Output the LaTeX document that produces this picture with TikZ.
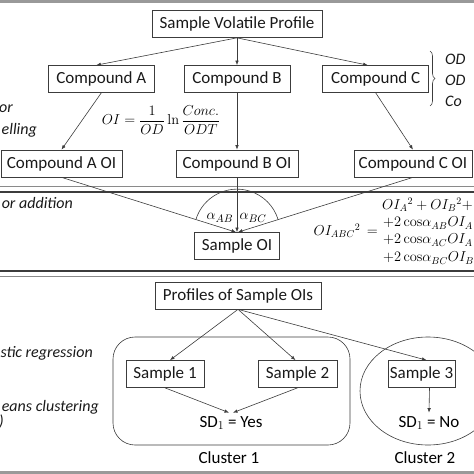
\documentclass[tikz,border=0pt]{standalone}
\usepackage{amsmath}
\usepackage[no-math]{fontspec}
\setmainfont{Carlito}
\usetikzlibrary{positioning,arrows.meta,decorations.pathreplacing,calc}

\definecolor{linegray}{HTML}{3C3C3C}
\definecolor{sepgray}{HTML}{8A8A8A}
\tikzset{
    box/.style={draw=linegray, line width=0.7pt, minimum height=27pt, inner sep=2pt, text=black!90},
    sidetext/.style={font=\fontsize{16}{18}\selectfont\itshape, text=black!90, inner sep=0pt},
    link/.style={draw=linegray, line width=0.6pt, -{Latex[length=4.5pt,width=3.5pt]}},
    eqtext/.style={inner sep=0pt, font=\fontsize{14}{16}\selectfont},
}

\begin{document}
\begin{tikzpicture}[x=1pt, y=-1pt, font=\fontsize{17}{19}\selectfont]
    \useasboundingbox (0,0) rectangle (474,474);
    \clip (0,0) rectangle (474,474);
    % frame bars
    \fill[black!40] (0,0) rectangle (474,2.5);
    \fill[black!40] (0,470.5) rectangle (474,474);

    % compounds
    \node [box, minimum width=170pt] (profile) at (237,24) {Sample Volatile Profile};
    \node [box, minimum width=106pt] (compB) at (237,79) {Compound B};
    \node [box, minimum width=106pt, left=29pt of compB] (compA) {Compound A};
    \node [box, minimum width=106pt, right=32pt of compB] (compC) {Compound C};
    \draw [link] (profile.south) -- ($(compA.north)+(-5,0)$);
    \draw [link] (profile.south) -- (compB.north);
    \draw [link] (profile.south) -- ($(compC.north)+(-8,0)$);

    % brace
    \draw [linegray, line width=0.6pt, decorate, decoration={brace, amplitude=5pt}] (430,51) -- (430,106);
    \node [sidetext, anchor=west] at (445,59) {OD};
    \node [sidetext, anchor=west] at (445,80) {OD};
    \node [sidetext, anchor=west] at (445,101) {Co};

    % odour intensity
    \node [box, minimum width=122pt] (oiB) at (237,163.5) {Compound B OI};
    \node [box, minimum width=121pt] (oiA) at (61.5,163.5) {Compound A OI};
    \node [box, minimum width=118pt] (oiC) at (413,163.5) {Compound C OI};
    \draw [link] (compA.south) -- (oiA.north);
    \draw [link] (compB.south) -- (oiB.north);
    \draw [link] (compC.south) -- (oiC.north);
    \node [eqtext] (oiEq) at (161,120) {$OI=\dfrac{1}{OD}\ln\dfrac{Conc.}{ODT}$};

    \node [sidetext, anchor=east] at (13,109) {or};
    \node [sidetext, anchor=east] at (37,130) {elling};

    % separators
    \draw [sepgray, line width=0.8pt] (0,186) -- (474,186);
    \draw [linegray, line width=1.1pt] (0,192) -- (474,192);
    \draw [linegray, line width=1.1pt] (0,271) -- (474,271);
    \draw [sepgray, line width=0.8pt] (0,276) -- (474,276);

    % vector addition
    \node [box, minimum width=85pt] (sampleOI) at (237,246) {Sample OI};
    \draw [link] (oiA.south) -- ($(sampleOI.north)+(-1,0)$);
    \draw [link] (oiB.south) -- (sampleOI.north);
    \draw [link] (oiC.south) -- ($(sampleOI.north)+(1,0)$);
    \draw [linegray, line width=0.6pt] ($(sampleOI.north)+(-163:43)$) arc [start angle=-163, end angle=-17, radius=43];
    \node [eqtext, font=\fontsize{15}{17}\selectfont] at (220,218) {$\alpha_{AB}$};
    \node [eqtext, font=\fontsize{15}{17}\selectfont] at (253,218) {$\alpha_{BC}$};

    \node [sidetext, anchor=east] at (73,203) {or addition};

    \node [eqtext, anchor=east] (oiSum) at (378,231) {$OI_{ABC}{}^{2}\,=$};
    \node [eqtext, anchor=west] at (382,205) {$OI_{A}{}^{2}+OI_{B}{}^{2}+$};
    \node [eqtext, anchor=west] at (383,223) {$+2\cos\!\alpha_{AB}OI_{A}$};
    \node [eqtext, anchor=west] at (383,240) {$+2\cos\!\alpha_{AC}OI_{A}$};
    \node [eqtext, anchor=west] at (383,258) {$+2\cos\!\alpha_{BC}OI_{B}$};

    % clustering
    \node [box, minimum width=166pt] (profiles) at (238,295.5) {Profiles of Sample OIs};
    \draw [linegray, line width=0.6pt, rounded corners=22pt] (113,337) rectangle (350,445);
    \draw [linegray, line width=0.6pt] (428,391) ellipse [x radius=68, y radius=54];
    \node [box, minimum width=78pt] (s1) at (165,374) {Sample 1};
    \node [box, minimum width=79pt] (s2) at (297.5,374) {Sample 2};
    \node [box, minimum width=62pt] (s3) at (421.5,374) {Sample 3};
    \node (yes) at (231,423) {SD$_1$ = Yes};
    \node (no) at (429,423) {SD$_1$ = No};
    \draw [link] (profiles.south) -- ($(s1.north)+(5,0)$);
    \draw [link] (profiles.south) -- ($(s2.north)+(-2,0)$);
    \draw [link] (profiles.south) -- ($(s3.north)+(5,0)$);
    \draw [link] (s1.south) -- ($(yes.north)+(-2,0)$);
    \draw [link] (s2.south) -- ($(yes.north)+(2,0)$);
    \draw [link] ($(s3.south)+(8,0)$) -- ($(no.north)+(0,0)$);
    \node (cl1) at (229,458) {Cluster 1};
    \node (cl2) at (425,458) {Cluster 2};

    \node [sidetext, anchor=east] at (93,353) {stic regression};
    \node [sidetext, anchor=east] at (99,407) {eans clustering};
    \node [sidetext, anchor=east] at (4,422) {)};
\end{tikzpicture}
\end{document}
